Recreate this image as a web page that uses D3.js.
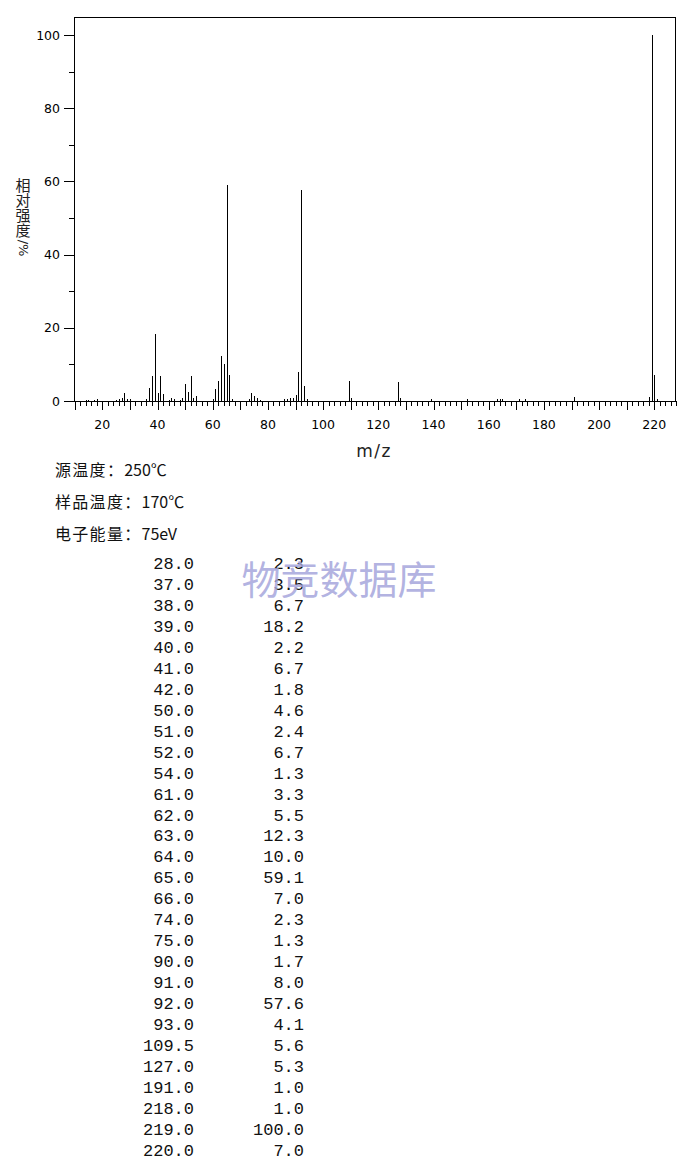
<!DOCTYPE html>
<html><head><meta charset="utf-8">
<script src="https://cdn.jsdelivr.net/npm/d3@7/dist/d3.min.js"></script>
<style>body{margin:0;background:#fff}svg{display:block}</style>
</head><body>
<script>
// Peak table (m/z, relative intensity %)
const mzTable = [28.0,37.0,38.0,39.0,40.0,41.0,42.0,50.0,51.0,52.0,54.0,61.0,62.0,63.0,64.0,65.0,66.0,74.0,75.0,90.0,91.0,92.0,93.0,109.5,127.0,191.0,218.0,219.0,220.0];
const intTable = [2.3,3.5,6.7,18.2,2.2,6.7,1.8,4.6,2.4,6.7,1.3,3.3,5.5,12.3,10.0,59.1,7.0,2.3,1.3,1.7,8.0,57.6,4.1,5.6,5.3,1.0,1.0,100.0,7.0];
// Small peaks visible in the spectrum but not listed
const mzMinor  = [14,15,17,18,25,26,27,29,30,36,44,45,46,48,49,53,60,67,73,76,77,86,87,88,89,94,110,128,139,152,163,164,165,171,173,221];
const intMinor = [0.3,0.3,0.3,0.6,0.3,0.5,0.8,0.5,0.5,0.5,0.4,0.8,0.5,0.3,0.7,0.7,0.5,0.5,0.5,0.8,0.3,0.5,0.5,0.8,0.8,0.5,0.8,0.8,0.5,0.5,0.5,0.5,0.5,0.5,0.5,0.5];
const xTickLabels = [20,40,60,80,100,120,140,160,180,200,220];
const yTickLabels = [0,20,40,60,80,100];
const infoLines = [["源温度：","250℃"],["样品温度：","170℃"],["电子能量：","75eV"]];
const yLabelChars = ["相","对","强","度"];
const watermark = "物竞数据库";

const W = 680, H = 1162;
const svg = d3.select("body").append("svg").attr("width", W).attr("height", H);

const frame = {l:74, r:675, t:17, b:401};
const x = d3.scaleLinear().domain([20,220]).range([102.3,654.3]);
const y = d3.scaleLinear().domain([0,100]).range([401,35]);

// frame
svg.append("rect").attr("x", frame.l+0.5).attr("y", frame.t+0.5)
  .attr("width", frame.r-frame.l).attr("height", frame.b-frame.t)
  .attr("fill","none").attr("stroke","#000").attr("stroke-width",1).attr("shape-rendering","crispEdges");

// peaks
const peaks = mzTable.map((m,i)=>({m, v:intTable[i]})).concat(mzMinor.map((m,i)=>({m, v:intMinor[i]})));
svg.append("g").selectAll("line").data(peaks).join("line")
  .attr("x1", d=>Math.round(x(d.m))+0.5).attr("x2", d=>Math.round(x(d.m))+0.5)
  .attr("y1", y(0)).attr("y2", d=>y(d.v))
  .attr("stroke","#000").attr("stroke-width",1).attr("shape-rendering","crispEdges");

// x ticks
const xMinor = d3.range(10, 229, 2);
svg.append("g").selectAll("line").data(xMinor).join("line")
  .attr("x1", d=>Math.round(x(d))+0.5).attr("x2", d=>Math.round(x(d))+0.5)
  .attr("y1", frame.b).attr("y2", d=> d%10===0 ? frame.b+9 : frame.b+5)
  .attr("stroke","#000").attr("shape-rendering","crispEdges");
svg.append("g").selectAll("text").data(xTickLabels).join("text")
  .attr("x", d=>x(d)).attr("y", 428.5).attr("text-anchor","middle")
  .attr("font-family","DejaVu Sans, sans-serif").attr("font-size",12.5).text(d=>d);

// y ticks
const yTicks = d3.range(0, 101, 10);
svg.append("g").selectAll("line").data(yTicks).join("line")
  .attr("x1", d=> d%20===0 ? frame.l-10 : frame.l-5).attr("x2", frame.l)
  .attr("y1", d=>Math.round(y(d))+0.5).attr("y2", d=>Math.round(y(d))+0.5)
  .attr("stroke","#000").attr("shape-rendering","crispEdges");
svg.append("g").selectAll("text").data(yTickLabels).join("text")
  .attr("x", 60).attr("y", d=>y(d)+4.5).attr("text-anchor","end")
  .attr("font-family","DejaVu Sans, sans-serif").attr("font-size",12.5).text(d=>d);

// axis titles
svg.append("text").attr("x",374).attr("y",457).attr("text-anchor","middle")
  .attr("font-family","DejaVu Sans, sans-serif").attr("font-size",17).attr("letter-spacing",1.5)
  .attr("fill","#222").text("m/z");
const yl = svg.append("g").attr("font-family","Noto Sans CJK SC, sans-serif").attr("font-size",15).attr("fill","#222");
yLabelChars.forEach((c,i)=>{
  yl.append("text").attr("x",23).attr("y",191+i*15).attr("text-anchor","middle").text(c);
});
yl.append("text").attr("transform","translate(19,248) rotate(90)").attr("text-anchor","middle")
  .attr("font-family","DejaVu Sans, sans-serif").attr("font-size",13).text("/%");

// info lines
infoLines.forEach((ln,i)=>{
  const t = svg.append("text").attr("x",55).attr("y",476+i*32)
    .attr("font-family","Noto Sans CJK SC, sans-serif").attr("font-size",16).attr("fill","#111");
  t.append("tspan").attr("letter-spacing",1.3).text(ln[0]);
  t.append("tspan").text(ln[1]);
});

// table
const tbl = svg.append("g").attr("font-family","Liberation Mono, monospace").attr("font-size",17).attr("fill","#111");
mzTable.forEach((m,i)=>{
  const yy = 569 + i*20.96;
  tbl.append("text").attr("x",194).attr("y",yy).attr("text-anchor","end").text(m.toFixed(1));
  tbl.append("text").attr("x",304).attr("y",yy).attr("text-anchor","end").text(intTable[i].toFixed(1));
});

// watermark
svg.append("text").attr("x",339).attr("y",594).attr("text-anchor","middle")
  .attr("font-family","Noto Sans CJK SC, sans-serif").attr("font-size",39)
  .attr("fill","#a6a6dc").attr("fill-opacity",0.85).text(watermark);
</script>
</body></html>
